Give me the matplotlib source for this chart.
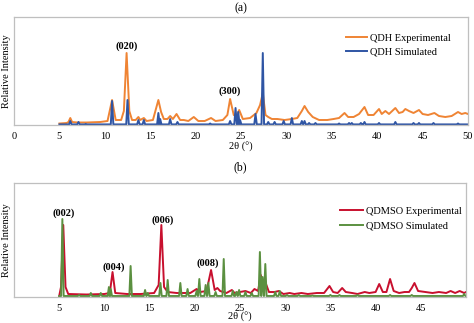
import numpy as np
import matplotlib
matplotlib.use("Agg")
from matplotlib import pyplot as plt

plt.rcParams["font.family"] = ["Liberation Serif", "DejaVu Serif"]

# (a) QDH experimental pattern
qdh_exp_x = [5.0, 5.8, 6.0, 6.2, 6.4, 7.0, 8.0, 9.5, 10.3, 10.8, 11.2, 11.8, 12.1, 12.4, 12.7,
             13.0, 13.4, 13.7, 13.9, 14.3, 14.6, 15.3, 15.9, 16.2, 16.5, 16.9, 17.2, 17.5, 17.9,
             18.3, 18.7, 19.2, 19.8, 20.3, 21.0, 21.7, 22.2, 23.0, 23.5, 23.8, 24.2, 24.5, 24.8,
             25.2, 26.0, 26.7, 27.1, 27.4, 27.7, 28.0, 28.4, 29.0, 29.8, 30.6, 31.2, 31.7, 32.0,
             32.4, 32.9, 33.6, 34.5, 35.2, 35.8, 36.4, 36.8, 37.4, 38.0, 38.6, 39.0, 39.6, 40.2,
             40.5, 40.9, 41.3, 42.0, 42.4, 42.8, 43.1, 43.5, 44.0, 44.6, 45.0, 45.6, 46.3, 46.8,
             47.5, 48.2, 48.9, 49.3, 49.7, 50.0]
qdh_exp_y = [1.5, 2, 3, 7, 3, 2.5, 2.5, 3, 4, 25, 5, 5, 14, 72, 14,
             5, 5, 8, 5, 7, 4, 5, 25, 13, 6, 6, 9, 6, 11,
             5, 5, 4, 8, 4, 4, 7, 4, 5, 10, 26, 10, 9, 15,
             6, 7, 12, 20, 32, 10, 8, 6, 6, 5, 6, 7, 14, 19,
             13, 8, 5, 5, 6, 7, 12, 8, 8, 11, 18, 10, 10, 16,
             11, 14, 11, 17, 12, 13, 16, 14, 12, 15, 11, 10, 12, 9,
             8, 9, 13, 11, 12, 11]

# (a) QDH simulated peaks: position, height
qdh_sim_pos = [6.2, 7.1, 7.9, 10.8, 12.5, 13.7, 14.3, 15.9, 16.1, 17.2, 18.0, 21.6, 23.8,
               24.4, 24.7, 24.9, 26.6, 27.4, 28.0, 28.7, 29.7, 30.6, 31.7, 32.0, 32.5, 33.2,
               35.8, 36.9, 37.2, 38.2, 38.6, 40.2, 42.0, 44.0, 44.6, 46.2, 48.9]
qdh_sim_h = [4, 3, 1, 24, 25, 5, 5, 12, 6, 6, 3, 1.5, 4,
             17, 13, 5, 11, 72, 3, 3, 4, 7, 4, 4, 2, 2,
             1.5, 2, 2, 2, 3, 2, 3, 2, 2, 2, 1.5]

# (b) QDMSO experimental pattern
qdmso_exp_x = [5.0, 5.2, 5.45, 5.7, 6.0, 8.0, 10.0, 10.6, 10.9, 11.2, 12.5, 14.0, 15.5, 16.0,
               16.3, 16.6, 17.0, 18.0, 19.5, 20.2, 20.6, 21.3, 21.8, 22.2, 22.5, 22.8, 23.5,
               24.1, 24.4, 25.0, 25.6, 26.2, 26.6, 27.0, 27.3, 27.6, 27.8, 28.2, 28.8, 29.3,
               29.8, 30.5, 31.0, 31.8, 32.5, 33.5, 34.3, 34.9, 35.3, 35.8, 36.3, 36.7, 37.4,
               38.0, 38.8, 39.3, 40.0, 40.4, 40.8, 41.2, 41.6, 42.0, 42.6, 43.2, 43.7, 44.0,
               44.3, 44.7, 45.5, 46.3, 47.0, 47.8, 48.3, 48.8, 49.3, 49.8, 50.0]
qdmso_exp_y = [1, 10, 72, 10, 3, 2.5, 3, 4, 25, 4, 3, 3, 4, 12,
               72, 10, 5, 4, 4, 8, 5, 6, 27, 7, 9, 6, 4,
               7, 4, 5, 6, 4, 8, 6, 22, 10, 15, 5, 5, 6,
               3, 4, 3, 4, 3, 4, 4, 11, 5, 4, 9, 5, 4,
               3, 5, 4, 5, 13, 5, 5, 18, 6, 4, 5, 5, 9,
               14, 6, 5, 4, 5, 4, 6, 4, 6, 4, 5]

# (b) QDMSO simulated peaks
qdmso_sim_pos = [5.35, 7.2, 8.5, 9.6, 10.5, 10.7, 12.9, 14.5, 14.8, 16.2, 17.0, 18.4, 19.2,
                 20.2, 20.5, 21.2, 21.5, 22.3, 23.2, 24.2, 24.6, 24.9, 25.6, 26.3, 27.2, 27.5,
                 27.8, 28.9, 29.4, 30.2, 31.5, 33.0, 35.0, 36.0, 38.0, 41.6, 44.0, 49.8]
qdmso_sim_h = [78, 2, 4, 4, 10, 8, 31, 7, 4, 14, 17, 14, 8,
               6, 18, 12, 14, 5, 38, 6, 5, 7, 5, 4, 45, 20,
               33, 5, 6, 2, 2, 1.5, 2, 2, 2, 2, 2, 3]


def sticks(pos, h, base, w=0.14, x0=5.0, x1=50.0):
    xs, ys = [x0], [base]
    for p, v in zip(pos, h):
        xs += [p - w, p, p + w]
        ys += [base, v, base]
    xs.append(x1)
    ys.append(base)
    return xs, ys


orange = "#EF8434"
blue = "#2F55A4"
red = "#C8102E"
green = "#5B9040"
frame = "#BFBFBF"
fs = 7.5

fig = plt.figure(figsize=(4.74, 3.23), dpi=100)
ax1 = fig.add_axes([14/474, 1-125/323, 454/474, 108/323])
ax2 = fig.add_axes([14/474, 1-297/323, 452/474, 114/323])

# panel a
ax1.plot(qdh_exp_x, qdh_exp_y, color=orange, lw=1.4, label="QDH Experimental")
sx, sy = sticks(qdh_sim_pos, qdh_sim_h, 0.6)
ax1.plot(sx, sy, color=blue, lw=1.4, label="QDH Simulated")
ax1.set_xlim(0, 50)
ax1.set_ylim(0, 108)
ax1.set_xticks(np.arange(0, 51, 5))
ax1.set_title("(a)", fontsize=8.5, pad=4)
ax1.set_xlabel("2θ (°)", fontsize=fs, labelpad=1)
ax1.text(12.4, 79, "(020)", ha="center", va="center", fontsize=fs, fontweight="bold")
ax1.text(23.8, 34, "(300)", ha="center", va="center", fontsize=fs, fontweight="bold")
ax1.legend(loc="upper left", bbox_to_anchor=(0.72, 0.895), frameon=False, fontsize=fs,
           handlelength=2.0, handletextpad=0.3, labelspacing=0.4, borderpad=0)

# panel b
ax2.plot(qdmso_exp_x, qdmso_exp_y, color=red, lw=1.4, label="QDMSO Experimental")
sx, sy = sticks(qdmso_sim_pos, qdmso_sim_h, 1.0)
ax2.plot(sx, sy, color=green, lw=1.4, label="QDMSO Simulated")
ax2.set_xlim(0, 50)
ax2.set_ylim(0, 114)
ax2.set_xticks(np.arange(5, 46, 5))
ax2.set_title("(b)", fontsize=8.5, pad=9)
ax2.set_xlabel("2θ (°)", fontsize=fs, labelpad=-1)
ax2.text(5.5, 84, "(002)", ha="center", va="center", fontsize=fs, fontweight="bold")
ax2.text(11.0, 30, "(004)", ha="center", va="center", fontsize=fs, fontweight="bold")
ax2.text(16.5, 77, "(006)", ha="center", va="center", fontsize=fs, fontweight="bold")
ax2.text(21.4, 34, "(008)", ha="center", va="center", fontsize=fs, fontweight="bold")
ax2.legend(loc="upper left", bbox_to_anchor=(0.71, 0.84), frameon=False, fontsize=fs,
           handlelength=2.2, handletextpad=0.3, labelspacing=0.5, borderpad=0)

for ax in (ax1, ax2):
    for s in ax.spines.values():
        s.set_color(frame)
        s.set_linewidth(0.9)
    ax.set_yticks([])
    ax.tick_params(axis="x", length=0, labelsize=fs, pad=5)
    ax.set_ylabel("Relative Intensity", fontsize=fs, labelpad=2)

fig.savefig("out.png", dpi=100)
